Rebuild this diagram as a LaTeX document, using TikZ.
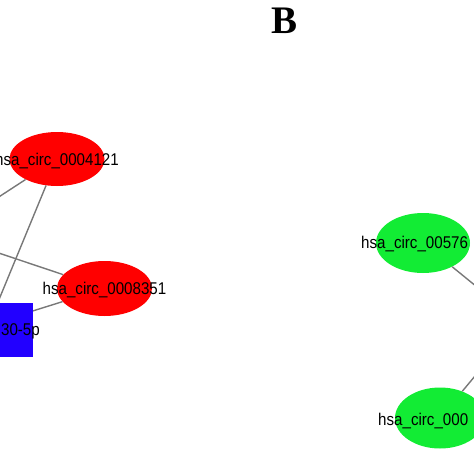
\documentclass[tikz,border=0pt]{standalone}
\usepackage{fontspec}
\setsansfont{Liberation Sans}[FakeStretch=0.89]
\newfontfamily\titlefont{Liberation Serif}
\usetikzlibrary{shapes.geometric}
\definecolor{circred}{RGB}{255,0,0}
\definecolor{circgreen}{RGB}{18,236,52}
\definecolor{mirblue}{RGB}{34,0,255}
\definecolor{edgegray}{RGB}{120,120,120}
\begin{document}
\begin{tikzpicture}[x=1pt,y=-1pt,
    circnode/.style={ellipse,inner sep=0pt,minimum width=95pt,minimum height=54pt},
    mirnode/.style={rectangle,fill=mirblue,inner sep=0pt,minimum width=54pt,minimum height=54pt},
    lbl/.style={font=\sffamily\fontsize{17}{20}\selectfont,inner sep=0pt,text height=12pt,text depth=0pt},
    link/.style={edgegray,line width=1.4pt}]
    \useasboundingbox (0,0) rectangle (474,474);
    \clip (0,0) rectangle (474,474);
    \node[font=\titlefont\bfseries\fontsize{39}{44}\selectfont,inner sep=0pt] (title) at (284.5,21) {B};
    \node[circnode,fill=circred] (c1) at (57,159) {};
    \node[circnode,fill=circred,minimum height=55pt] (c2) at (104.5,288.5) {};
    \node[circnode,fill=circgreen,minimum width=94pt,minimum height=60pt] (g1) at (423,243) {};
    \node[circnode,fill=circgreen,minimum width=90pt,minimum height=61pt] (g2) at (440,418) {};
    \coordinate (hubL) at (-58,234);
    \coordinate (hubLL) at (-40,394);
    \coordinate (hubB) at (-60,340);
    \coordinate (hubR) at (520,322);
    \foreach \a/\b in {c1/hubL, c1/hubLL, c2/hubL, c2/hubB, g1/hubR, g2/hubR}{
        \draw[link] (\a) -- (\b);
    }
    \node[mirnode] (mir) at (6,330) {};
    \node[lbl] at (c1) {hsa\_circ\_0004121};
    \node[lbl] at (c2) {hsa\_circ\_0008351};
    \node[lbl,anchor=west] at (361,242) {hsa\_circ\_00576};
    \node[lbl,anchor=west] at (378,419) {hsa\_circ\_000};
    \node[lbl,anchor=base east] at ([xshift=34pt,yshift=-5pt]mir.center) {30-5p};
\end{tikzpicture}
\end{document}
